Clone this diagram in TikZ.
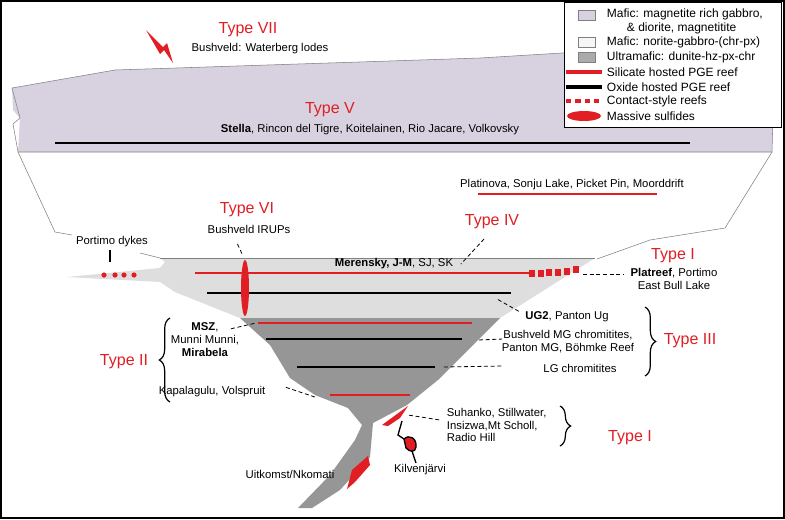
\documentclass[tikz,border=0pt]{standalone}
\usepackage{fontspec}
\setmainfont{Liberation Sans}
\usetikzlibrary{decorations.pathreplacing}
\definecolor{magn}{RGB}{216,210,224}
\definecolor{lgray}{RGB}{222,222,222}
\definecolor{dgray}{RGB}{150,150,150}
\definecolor{tred}{RGB}{225,30,35}
\tikzset{
  lbl/.style={font=\fontsize{8.5}{9.7}\selectfont, inner sep=0.5pt, align=center},
  typ/.style={font=\fontsize{12}{13}\selectfont, text=tred, inner sep=0pt},
  ptr/.style={densely dashed, line width=0.6pt},
  redreef/.style={tred, line width=2pt},
  blackreef/.style={black, line width=2pt},
  outl/.style={gray, line width=0.4pt},
  brc/.style={decorate, decoration={brace, amplitude=8pt}, line width=0.9pt}
}
\begin{document}
\begin{tikzpicture}[x=0.75pt, y=-0.75pt]
\useasboundingbox (0,0) rectangle (785,519);
\fill[white] (0,0) rectangle (785,519);
% magnetite layer
\fill[magn] (12,88) -- (115,70) -- (420,60) -- (480,58) -- (775,40) -- (772,152) -- (18,152) -- (20,118) -- (13,110) -- cycle;
\draw[outl] (12,88) -- (115,70) -- (420,60) -- (480,58) -- (775,40);
\draw[outl] (12,88) -- (20,118) -- (13,124) -- (18,152) -- (772,152) -- (775,40);
% norite outline
\draw[outl] (18,152) -- (55,232) -- (72,235);
\draw[outl] (140,253) -- (160,258);
\draw[outl] (772,152) -- (725,228) -- (650,240) -- (597,259);
% light gray layer
\fill[lgray] (160,258) -- (595,258) -- (500,318) -- (240,318) -- (175,292) -- (160,282) -- (67,277) -- (160,268) -- (165,262) -- cycle;
\draw[outl] (160,258) -- (595,258);
% dark gray layer
\fill[dgray] (240,318) -- (500,318) -- (438,380) -- (407,405) -- (373,423) -- (370,457) -- (340,490) -- (312,508) -- (298,508) -- (330,475) -- (355,440) -- (362,425) -- (348,408) -- (315,395) -- (290,378) -- (270,345) -- cycle;
% reefs
\draw[blackreef] (55,143) -- (690,143);
\draw[redreef] (478,194) -- (657,194);
\draw[redreef] (195,273) -- (532,273);
\foreach \x/\y in {532/273,541/273,549/272,558/272,567/271,576/269} \fill[tred] (\x-3,\y-3.5) rectangle (\x+3,\y+3.5);
\draw[blackreef] (207,293) -- (511,293);
\draw[redreef] (258,323) -- (472,323);
\draw[blackreef] (266,339) -- (462,339);
\draw[blackreef] (297,367) -- (435,367);
\draw[redreef] (330,395) -- (410,395);
\fill[tred] (245,288) ellipse (4 and 28);
\foreach \x in {104,115,124,134} \fill[tred] (\x,275) circle (2.6);
\fill[tred] (382,425) -- (408,406) -- (400,418) -- (388,426) -- cycle;
\fill[tred] (347,489) -- (352,470) -- (368,456) -- (370,465) -- (355,482) -- cycle;
% Kilvenjarvi
\draw[line width=1pt] (402,421) -- (398,435) -- (404,439);
\draw[line width=1pt, fill=tred] (404,439) .. controls (409,434) and (417,438) .. (416,447) .. controls (415,453) and (410,452) .. (406,448) -- cycle;
\draw[line width=1pt] (412,451) -- (416,463);
% lightning bolt
\fill[tred] (146,30) -- (163,47) -- (167,43) -- (173,63) -- (164,50) -- (160,54) -- cycle;
% Portimo bar
\draw[line width=1pt] (110,250) -- (110,262);
% pointers
\node[inner sep=0] (p4a) at (485,238) {}; \node[inner sep=0] (p4b) at (460,265) {};
\draw[ptr] (p4a) -- (p4b);
\node[inner sep=0] (p6a) at (237,243) {}; \node[inner sep=0] (p6b) at (243,256) {};
\draw[ptr] (p6a) -- (p6b);
\node[inner sep=0] (p1a) at (582,274) {}; \node[inner sep=0] (p1b) at (625,274) {};
\draw[ptr] (p1a) -- (p1b);
\node[inner sep=0] (pua) at (497,299) {}; \node[inner sep=0] (pub) at (520,312) {};
\draw[ptr] (pua) -- (pub);
\node[inner sep=0] (pma) at (478,340) {}; \node[inner sep=0] (pmb) at (503,339) {};
\draw[ptr] (pma) -- (pmb);
\node[inner sep=0] (pla) at (443,367) {}; \node[inner sep=0] (plb) at (503,366) {};
\draw[ptr] (pla) -- (plb);
\node[inner sep=0] (psa) at (230,329) {}; \node[inner sep=0] (psb) at (256,323) {};
\draw[ptr] (psa) -- (psb);
\node[inner sep=0] (pka) at (285,387) {}; \node[inner sep=0] (pkb) at (318,398) {};
\draw[ptr] (pka) -- (pkb);
\node[inner sep=0] (pha) at (408,415) {}; \node[inner sep=0] (phb) at (440,420) {};
\draw[ptr] (pha) -- (phb);
% braces
\draw[brc] (645,307) -- (645,376);
\draw[brc] (170,402) -- (170,318);
\draw[brc] (560,406) -- (560,446);
% texts
\node[typ] (t7) at (248,30) {Type VII};
\node[lbl] (w) at (260,49) {Bushveld: Waterberg lodes};
\node[typ] (t5) at (330,110) {Type V};
\node[lbl] (st) at (370,130) {\textbf{Stella}, Rincon del Tigre, Koitelainen, Rio Jacare, Volkovsky};
\node[lbl] (pl) at (572,185) {Platinova, Sonju Lake, Picket Pin, Moorddrift};
\node[typ] (t4) at (492,222) {Type IV};
\node[typ] (t6) at (247,210) {Type VI};
\node[lbl] (ir) at (249,229) {Bushveld IRUPs};
\node[lbl] (pd) at (112,242) {Portimo dykes};
\node[lbl] (me) at (394,264) {\textbf{Merensky, J-M}, SJ, SK};
\node[typ] (t1) at (673,256) {Type I};
\node[lbl] (pt) at (674,279) {\textbf{Platreef}, Portimo\\East Bull Lake};
\node[lbl] (ug) at (567,317) {\textbf{UG2}, Panton Ug};
\node[lbl] (mg) at (568,342) {Bushveld MG chromitites,\\Panton MG, Böhmke Reef};
\node[lbl] (lg) at (580,368) {LG chromitites};
\node[typ] (t3) at (690,341) {Type III};
\node[lbl] (ms) at (205,340) {\textbf{MSZ},\\Munni Munni,\\\textbf{Mirabela}};
\node[lbl] (ka) at (212,392) {Kapalagulu, Volspruit};
\node[typ] (t2) at (124,362) {Type II};
\node[lbl, align=left, anchor=west] (su) at (446,425) {Suhanko, Stillwater,\\Insizwa,Mt Scholl,\\Radio Hill};
\node[typ] (t1b) at (630,438) {Type I};
\node[lbl] (ui) at (290,474) {Uitkomst/Nkomati};
\node[lbl] (ki) at (420,470) {Kilvenjärvi};
% legend
\draw[fill=white, line width=0.5pt] (564,2) rectangle (781,127);
\draw[fill=magn, draw=gray] (578,10) rectangle (595,20);
\draw[fill=white!93!gray, draw=gray] (578,37) rectangle (595,47);
\draw[fill=dgray!80!white, draw=gray] (578,52) rectangle (595,62);
\draw[redreef, line width=3pt] (566,72) -- (602,72);
\draw[blackreef, line width=3pt] (566,87) -- (602,87);
\draw[tred, line width=3pt, dash pattern=on 4pt off 3pt] (566,101) -- (602,101);
\fill[tred] (584,116) ellipse (17 and 5);
\begin{scope}[every node/.style={lbl, anchor=west, font=\fontsize{9}{10}\selectfont}]
\node (l1) at (606,14) {Mafic: magnetite rich gabbro,};
\node (l1b) at (626,28) {\& diorite, magnetitite};
\node (l2) at (606,42) {Mafic: norite-gabbro-(chr-px)};
\node (l3) at (606,57) {Ultramafic: dunite-hz-px-chr};
\node (l4) at (606,72) {Silicate hosted PGE reef};
\node (l5) at (606,87) {Oxide hosted PGE reef};
\node (l6) at (606,101) {Contact-style reefs};
\node (l7) at (606,116) {Massive sulfides};
\end{scope}
% frame
\draw[line width=2pt] (1,1) rectangle (784,518);
\end{tikzpicture}
\end{document}
